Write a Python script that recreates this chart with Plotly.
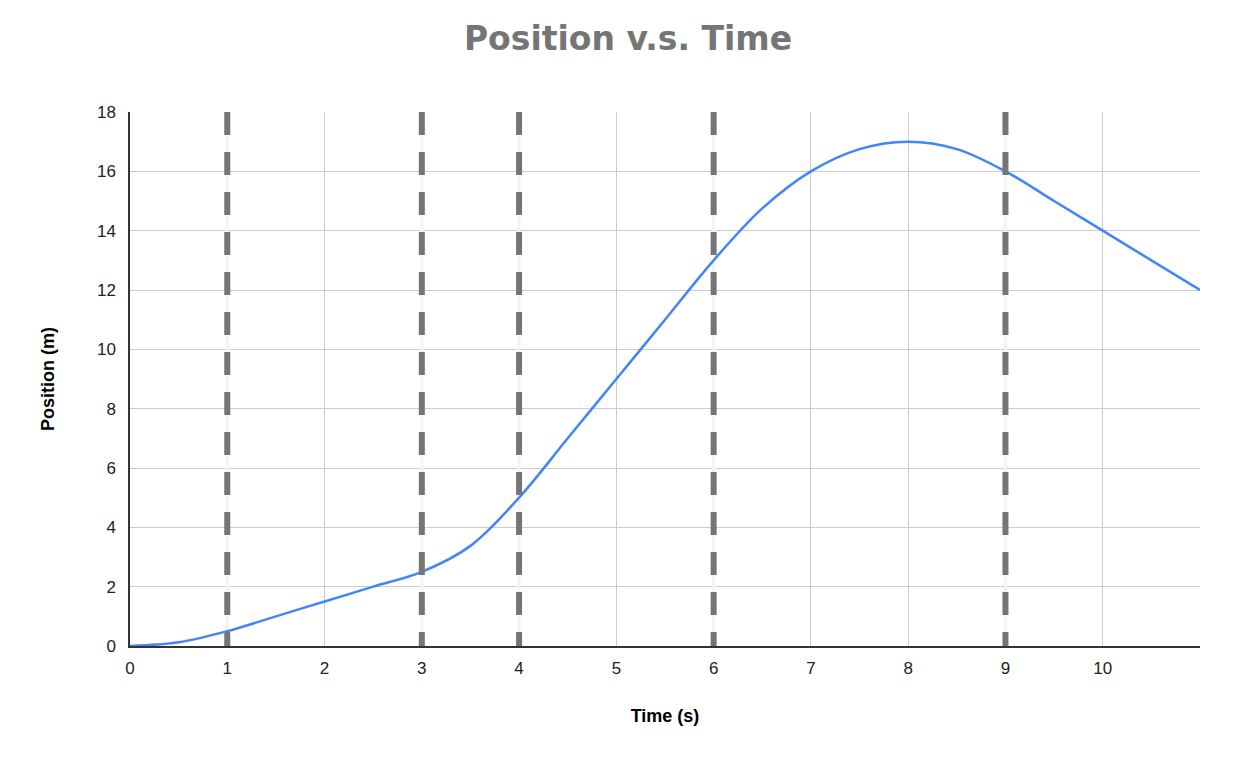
import plotly.graph_objects as go

# Data
time_s = [0, 0.5, 1, 1.5, 2, 2.5, 3, 3.5, 4, 4.5, 5, 5.5, 6, 6.5, 7, 7.5, 8, 8.5, 9, 9.5, 10, 10.5, 11]
position_m = [0, 0.125, 0.5, 1, 1.5, 2, 2.5, 3.375, 5, 7, 9, 11, 13, 14.75, 16, 16.75, 17, 16.75, 16, 15, 14, 13, 12]
event_times = [1, 3, 4, 6, 9]
x_ticks = [0, 1, 2, 3, 4, 5, 6, 7, 8, 9, 10]
y_ticks = [0, 2, 4, 6, 8, 10, 12, 14, 16, 18]
y_span = [0, 18]

fig = go.Figure()

for t in event_times:
    fig.add_trace(go.Scatter(
        x=[t, t], y=[y_span[1], y_span[0]], mode="lines",
        line=dict(color="#f3f3f3", width=3),
        showlegend=False, hoverinfo="skip"))

fig.add_trace(go.Scatter(
    x=time_s, y=position_m, mode="lines",
    line=dict(color="#4285F4", width=2.5, shape="spline", smoothing=1.0),
    showlegend=False, hoverinfo="x+y"))

for t in event_times:
    fig.add_trace(go.Scatter(
        x=[t, t], y=[y_span[1], y_span[0]], mode="lines",
        line=dict(color="#757575", width=6, dash="23px,17px"),
        showlegend=False, hoverinfo="skip"))

fig.update_layout(
    width=1240, height=765,
    paper_bgcolor="white", plot_bgcolor="white",
    margin=dict(l=122, r=48, t=104, b=127),
    title=dict(text="<b>Position v.s. Time</b>", x=0.5, xanchor="center",
               xref="container", yref="container", y=1 - 30 / 765, yanchor="middle",
               font=dict(family="DejaVu Sans, sans-serif", size=33, color="#757575")),
    font=dict(family="Liberation Sans, Arial, sans-serif", size=17, color="#222222"),
)
fig.update_xaxes(
    range=[0, 11], tickvals=x_ticks, showgrid=True, gridcolor="#cccccc", gridwidth=1,
    zeroline=False, showline=True, linecolor="#333333", linewidth=1.5,
    ticks="", ticklabelstandoff=6,
    title=dict(text="<b>Time (s)</b>", font=dict(size=18, color="#000000"), standoff=32),
)
fig.update_yaxes(
    range=y_span, tickvals=y_ticks, showgrid=True, gridcolor="#cccccc", gridwidth=1,
    zeroline=False, showline=True, linecolor="#333333", linewidth=1.5,
    ticks="", ticklabelstandoff=9,
    title=dict(text="<b>Position (m)</b>", font=dict(size=18, color="#000000"), standoff=38),
)

fig.write_html("out.html")
